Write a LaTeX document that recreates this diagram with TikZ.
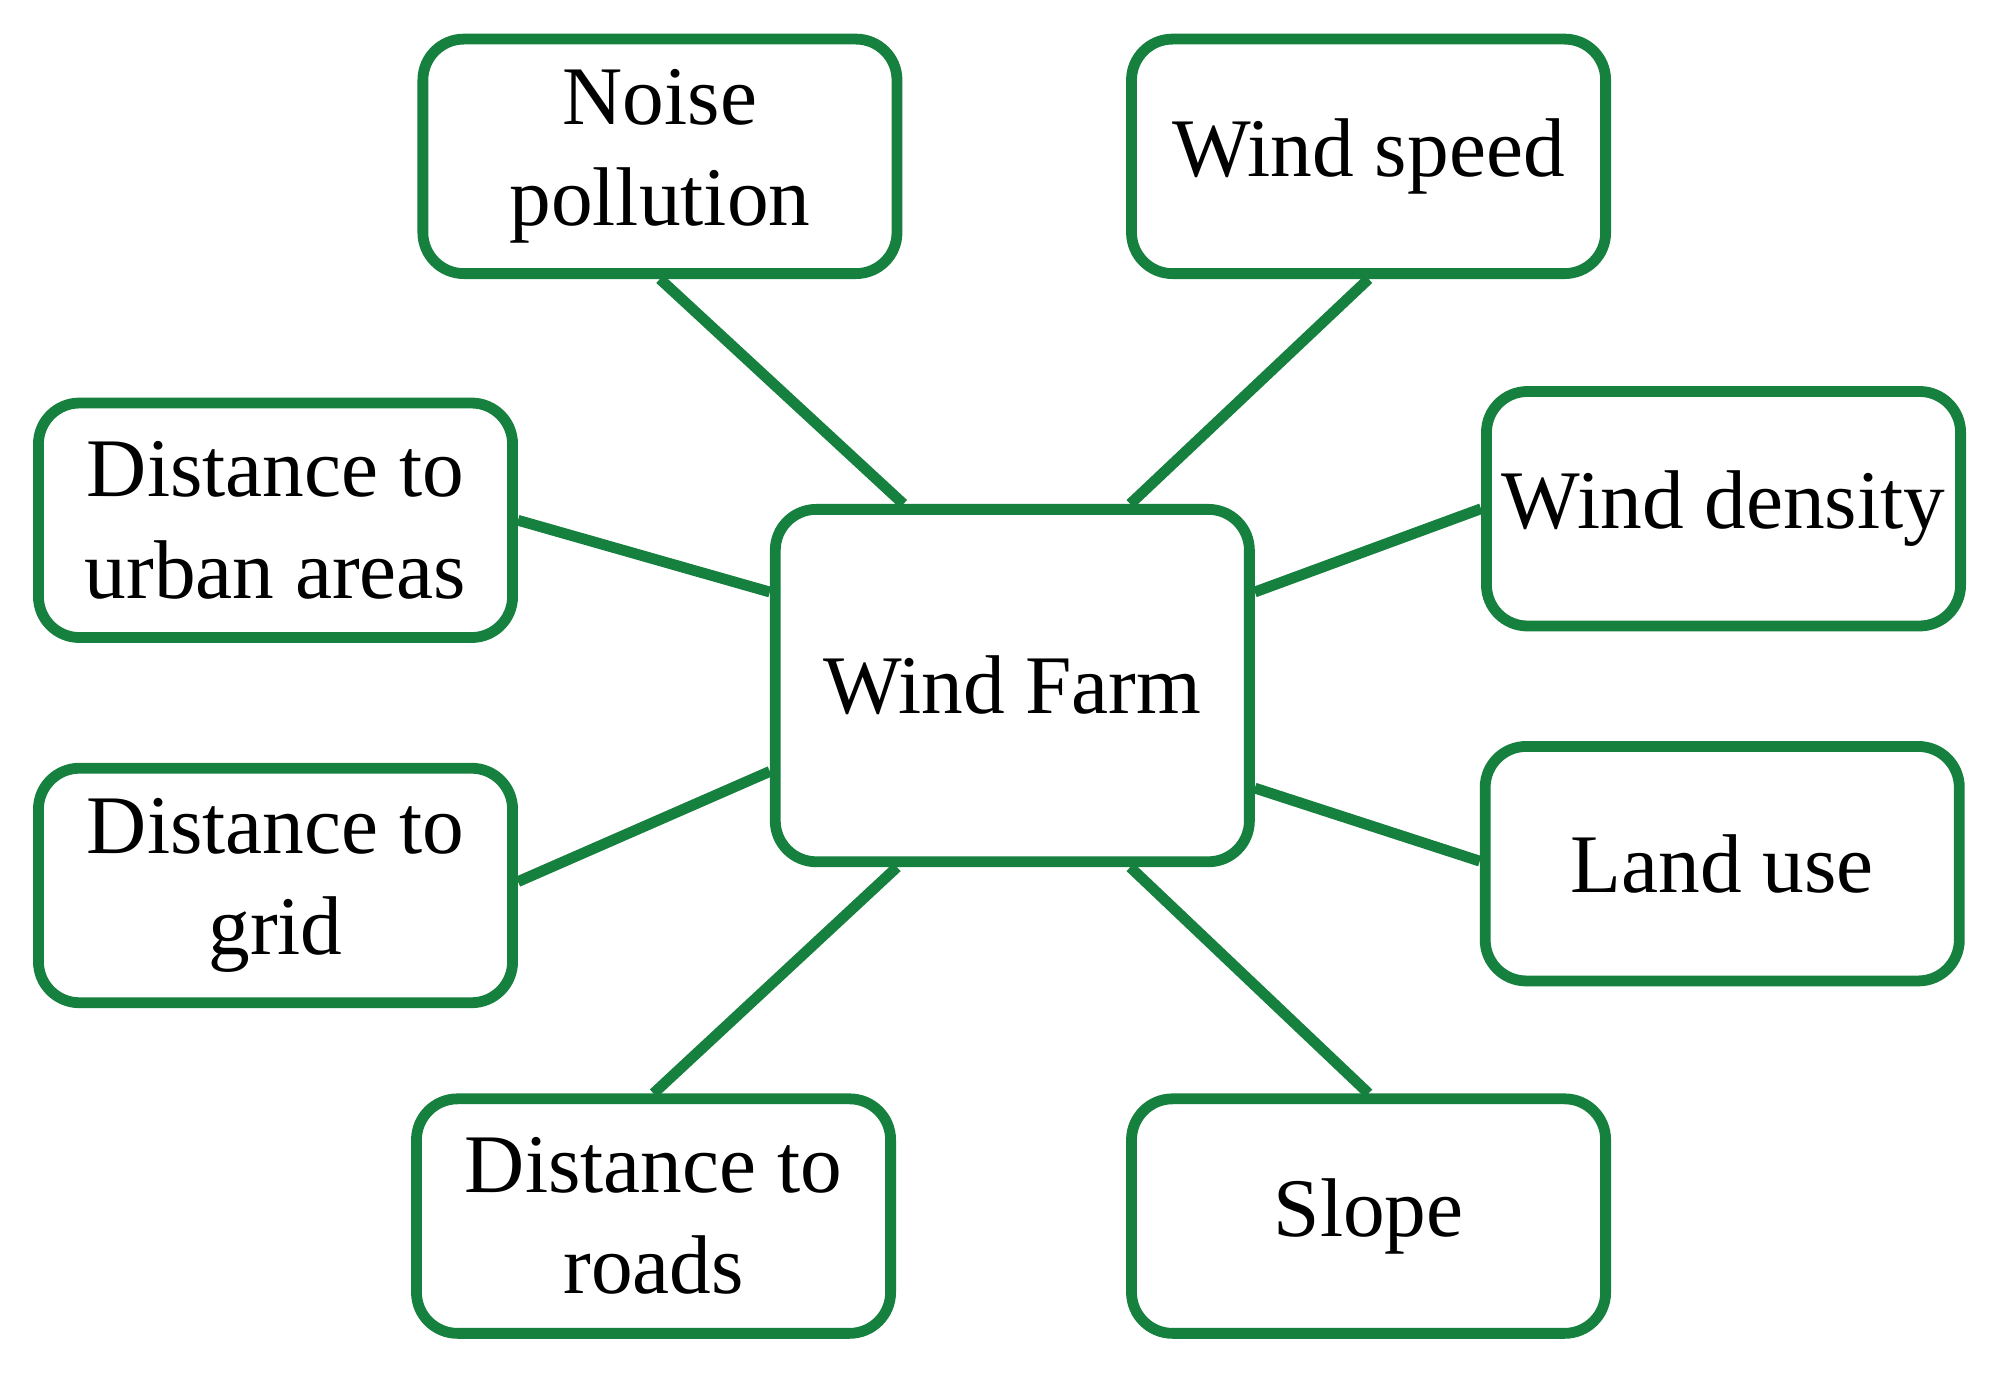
\documentclass[tikz,border=0pt]{standalone}
\usepackage{fontspec}
\setmainfont{Liberation Serif}
\usetikzlibrary{calc}
\definecolor{gr}{RGB}{22,128,62}
\begin{document}
\begin{tikzpicture}[x=1cm,y=-1cm,
  box/.style={draw=gr,line width=2.4pt,rounded corners=0.32cm,minimum width=3.7cm,minimum height=1.83cm,align=center,font=\fontsize{18.5}{22.5}\selectfont,fill=white},
  link/.style={draw=gr,line width=2.4pt}]
\useasboundingbox (0,0) rectangle (15.6,10.76);
\node[box] (noise) at (5.15,1.22) {Noise\\pollution};
\node[box] (speed) at (10.68,1.22) {Wind speed};
\node[box] (urban) at (2.15,4.06) {Distance to\\urban areas};
\node[box] (dens) at (13.45,3.97) {Wind density};
\node[box,minimum height=2.75cm] (farm) at (7.9,5.35) {Wind Farm};
\node[box] (grid) at (2.15,6.91) {Distance to\\grid};
\node[box] (land) at (13.44,6.74) {Land use};
\node[box] (roads) at (5.1,9.49) {Distance to\\roads};
\node[box] (slope) at (10.68,9.49) {Slope};
\draw[link] (noise.south) -- ($(farm.north)+(-0.85,0)$);
\draw[link] (speed.south) -- ($(farm.north)+(0.92,0)$);
\draw[link] ($(urban.east)$) -- ($(farm.west)+(0,-0.73)$);
\draw[link] (dens.west) -- ($(farm.east)+(0,-0.73)$);
\draw[link] ($(grid.east)+(0,-0.03)$) -- ($(farm.west)+(0,0.67)$);
\draw[link] ($(land.west)+(0,-0.02)$) -- ($(farm.east)+(0,0.8)$);
\draw[link] (roads.north) -- ($(farm.south)+(-0.9,0)$);
\draw[link] (slope.north) -- ($(farm.south)+(0.92,0)$);
\end{tikzpicture}
\end{document}
